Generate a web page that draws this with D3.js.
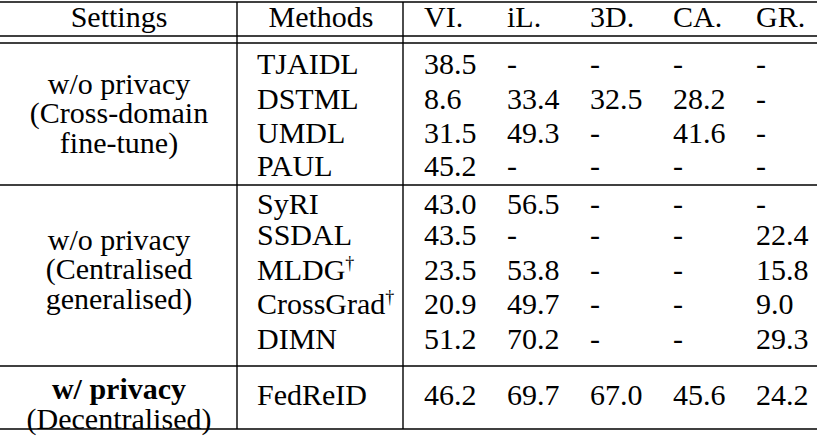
<!DOCTYPE html>
<html>
<head>
<meta charset="utf-8">
<script src="https://d3js.org/d3.v7.min.js"></script>
<style>body{margin:0;background:#fff} svg text{font-family:"Liberation Serif","Times New Roman",Times,"Tinos","DejaVu Serif",serif}</style>
</head>
<body>
<script>
var columns = ["VI.", "iL.", "3D.", "CA.", "GR."];
var methods = ["TJAIDL", "DSTML", "UMDL", "PAUL", "SyRI", "SSDAL", "MLDG", "CrossGrad", "DIMN", "FedReID"];
var dagger = ["MLDG", "CrossGrad"];
var values = [
  ["38.5", "-", "-", "-", "-"],
  ["8.6", "33.4", "32.5", "28.2", "-"],
  ["31.5", "49.3", "-", "41.6", "-"],
  ["45.2", "-", "-", "-", "-"],
  ["43.0", "56.5", "-", "-", "-"],
  ["43.5", "-", "-", "-", "22.4"],
  ["23.5", "53.8", "-", "-", "15.8"],
  ["20.9", "49.7", "-", "-", "9.0"],
  ["51.2", "70.2", "-", "-", "29.3"],
  ["46.2", "69.7", "67.0", "45.6", "24.2"]
];
var groups = [
  {lines: ["w/o privacy", "(Cross-domain", "fine-tune)"], bold: [false, false, false], ys: [83, 112, 142]},
  {lines: ["w/o privacy", "(Centralised", "generalised)"], bold: [false, false, false], ys: [239, 268, 298]},
  {lines: ["w/ privacy", "(Decentralised)"], bold: [true, false], ys: [388, 418]}
];
var rowY = [63, 98, 132, 165, 203, 234, 269, 303, 338, 394];

var svg = d3.select("body").append("svg").attr("width", 822).attr("height", 442)
  .style("font-size", "30px");

var x = d3.scalePoint().domain(columns).range([424, 756]);

// rules
[2, 36, 43, 185, 366, 429].forEach(function(y){
  svg.append("line").attr("x1", 0).attr("x2", 817).attr("y1", y).attr("y2", y)
    .attr("stroke", "#000").attr("stroke-width", 1.6);
});
[237, 403].forEach(function(vx){
  svg.append("line").attr("x1", vx).attr("x2", vx).attr("y1", 2).attr("y2", 429)
    .attr("stroke", "#000").attr("stroke-width", 1.4);
});

function txt(t, tx, ty, anchor){
  return svg.append("text").attr("x", tx).attr("y", ty).attr("dy", "0.35em")
    .attr("text-anchor", anchor || "start").text(t);
}

txt("Settings", 119, 16, "middle");
txt("Methods", 321, 16, "middle");
columns.forEach(function(c){ txt(c, x(c), 16); });

methods.forEach(function(m, i){
  var t = txt(m, 257, rowY[i]);
  if (dagger.indexOf(m) >= 0) {
    t.append("tspan").attr("font-size", "18px").attr("dy", "-0.6em").text("\u2020");
  }
  values[i].forEach(function(v, j){ txt(v, x(columns[j]), rowY[i]); });
});

groups.forEach(function(g){
  g.lines.forEach(function(l, k){
    txt(l, 119, g.ys[k], "middle").attr("font-weight", g.bold[k] ? "bold" : "normal");
  });
});
</script>
</body>
</html>
